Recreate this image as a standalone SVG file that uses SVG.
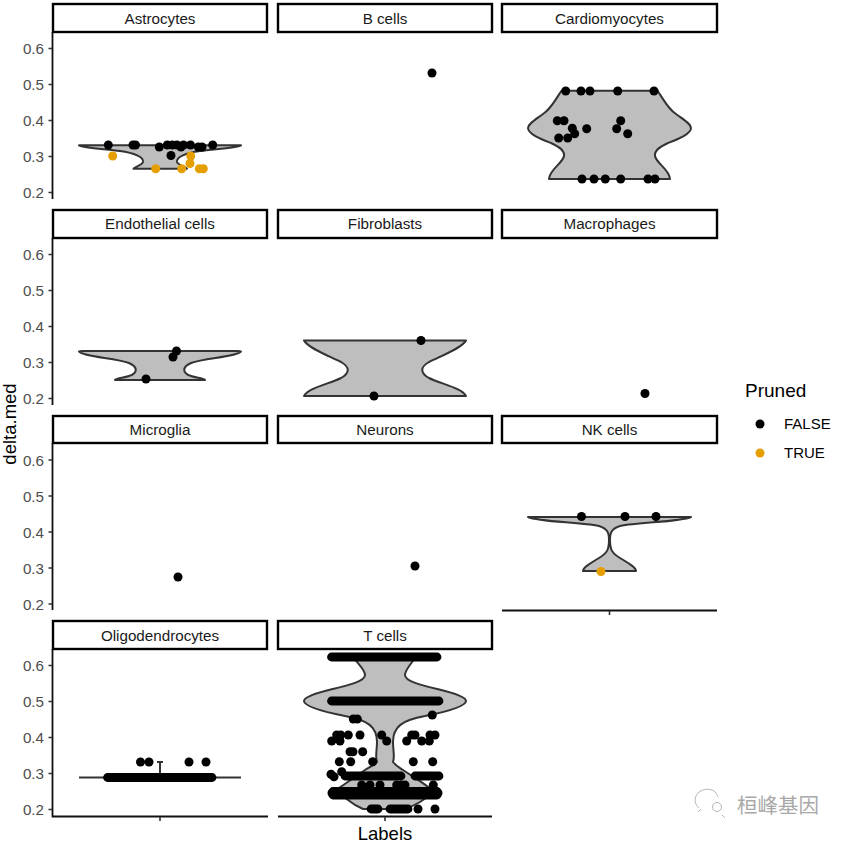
<svg xmlns="http://www.w3.org/2000/svg" width="846" height="843" viewBox="0 0 846 843">
<defs><style>
text{font-family:"Liberation Sans",Arial,sans-serif}
.strip rect{fill:#fff;stroke:#000;stroke-width:2.4}
.strip text{font-size:15.2px;fill:#1a1a1a;text-anchor:middle}
.tick{font-size:15.2px;fill:#4d4d4d;text-anchor:end}
.ax{stroke:#111;stroke-width:1.8;fill:none}
.tk{stroke:#333;stroke-width:1.6;fill:none}
.v{fill:#bebebe;stroke:#333;stroke-width:2;stroke-linejoin:round}
.k{fill:#000}.o{fill:#e69f00}
.bar{stroke:#000;stroke-width:8.8;stroke-linecap:round;fill:none}
.leg{font-size:15px;fill:#000}
.wm{fill:none;stroke:#b5b5b5;stroke-width:1}
circle{r:4.5px}
</style>
<g id="yt"><path class="tk" d="M48.500 0H52M48.500 36H52M48.500 72H52M48.500 108H52M48.500 144H52"/>
<text class="tick" x="44" y="5.500">0.6</text><text class="tick" x="44" y="41.500">0.5</text><text class="tick" x="44" y="77.500">0.4</text><text class="tick" x="44" y="113.500">0.3</text><text class="tick" x="44" y="149.500">0.2</text></g>
</defs>
<rect width="846" height="843" fill="#fff"/>
<g id="axes">
<path class="ax" d="M52.500 32V199M52.500 238V405M52.500 443V610M52.500 649V816.500H268M278 816.500H492M502 610.500H717"/>
<path class="tk" d="M160 817V821M385 817V821M609.500 611V615"/>
<use href="#yt" y="48.500"/><use href="#yt" y="254.500"/><use href="#yt" y="460"/><use href="#yt" y="665.500"/>
</g>
<g id="panel-astrocytes">
<g class="strip"><rect x="53" y="4" width="214" height="28"/><text x="160" y="24">Astrocytes</text></g>
<path class="v" d="M79 145.300H241C236 148 214 149 200 151C186 153 176 157 177 162C178 165 186 167 187 168.700H133.500C135 167 142 165 143 162C144 157 134 153 120 151C106 149 84 148 79 145.300Z"/>
<g class="k"><circle cx="108.300" cy="145" r="4"/><circle cx="133" cy="145" r="4"/><circle cx="135.500" cy="145" r="4"/><circle cx="159.300" cy="147" r="4"/><circle cx="167.300" cy="145" r="4"/><circle cx="172.300" cy="145" r="4"/><circle cx="177" cy="145" r="4"/><circle cx="181" cy="147" r="4"/><circle cx="183.500" cy="145" r="4"/><circle cx="190.500" cy="145" r="4"/><circle cx="198.300" cy="147" r="4"/><circle cx="202" cy="147" r="4"/><circle cx="212.700" cy="145" r="4"/><circle cx="171" cy="155.500" r="4"/></g>
<g class="o"><circle cx="112.700" cy="156" r="4"/><circle cx="190.700" cy="156" r="4"/><circle cx="190" cy="163.500" r="4"/><circle cx="155.700" cy="168.700" r="4"/><circle cx="181.700" cy="168.700" r="4"/><circle cx="199.300" cy="168.700" r="4"/><circle cx="203.300" cy="168.700" r="4"/></g>
</g>
<g id="panel-b-cells">
<g class="strip"><rect x="278" y="4" width="214" height="28"/><text x="385" y="24">B cells</text></g>
<circle class="k" cx="432" cy="73" r="4"/>
</g>
<g id="panel-cardiomyocytes">
<g class="strip"><rect x="502" y="4" width="215" height="28"/><text x="609.500" y="24">Cardiomyocytes</text></g>
<path class="v" d="M561.700 90.700H657.300C663 98 667 108 676 114C684 120 691 124 691 128C691 134 678 139 668 143C659 147 654 151 655 156C656 163 670 170 670 179H549C549 170 563 163 564 156C565 151 560 147 551 143C541 139 528 134 528 128C528 124 535 120 543 114C552 108 556 98 561.700 90.700Z"/>
<g class="k"><circle cx="565.700" cy="91" r="4"/><circle cx="581" cy="91" r="4"/><circle cx="590" cy="91" r="4"/><circle cx="617.700" cy="91" r="4"/><circle cx="654" cy="91" r="4"/><circle cx="557.300" cy="120.700" r="4"/><circle cx="564" cy="120.700" r="4"/><circle cx="572.300" cy="128.300" r="4"/><circle cx="574.700" cy="133.700" r="4"/><circle cx="586.700" cy="128.700" r="4"/><circle cx="558.700" cy="138" r="4"/><circle cx="567.700" cy="138" r="4"/><circle cx="620.700" cy="120.700" r="4"/><circle cx="616.700" cy="128.700" r="4"/><circle cx="627.700" cy="133.700" r="4"/><circle cx="582" cy="179" r="4"/><circle cx="594" cy="179" r="4"/><circle cx="605.300" cy="179" r="4"/><circle cx="620.700" cy="179" r="4"/><circle cx="648" cy="179" r="4"/><circle cx="655" cy="179" r="4"/></g>
</g>
<g id="panel-endothelial">
<g class="strip"><rect x="53" y="210" width="214" height="28"/><text x="160" y="229">Endothelial cells</text></g>
<path class="v" d="M79 351.500C80 350.800 82 351 84 351H236C238 351 240 350.800 241 351.500C236 357 205 358 191 363C182 367 182 373 191 376C197 378 203 378 205 380H115C117 378 123 378 129 376C138 373 138 367 129 363C115 358 84 357 79 351.500Z"/>
<g class="k"><circle cx="176.500" cy="351" r="4"/><circle cx="173" cy="357" r="4"/><circle cx="146" cy="379" r="4"/></g>
</g>
<g id="panel-fibroblasts">
<g class="strip"><rect x="278" y="210" width="214" height="28"/><text x="385" y="229">Fibroblasts</text></g>
<path class="v" d="M304 340.500H466C462 348 441 356 429 362C420 367 420 373 429 378C441 384 462 388 466 396H304C308 388 329 384 341 378C350 373 350 367 341 362C329 356 308 348 304 340.500Z"/>
<g class="k"><circle cx="421" cy="340.500" r="4"/><circle cx="374" cy="396" r="4"/></g>
</g>
<g id="panel-macrophages">
<g class="strip"><rect x="502" y="210" width="215" height="28"/><text x="609.500" y="229">Macrophages</text></g>
<circle class="k" cx="645" cy="393.500" r="4"/>
</g>
<g id="panel-microglia">
<g class="strip"><rect x="53" y="416" width="214" height="27"/><text x="160" y="435">Microglia</text></g>
<circle class="k" cx="178" cy="577" r="4"/>
</g>
<g id="panel-neurons">
<g class="strip"><rect x="278" y="416" width="214" height="27"/><text x="385" y="435">Neurons</text></g>
<circle class="k" cx="415" cy="566" r="4"/>
</g>
<g id="panel-nk">
<g class="strip"><rect x="502" y="416" width="215" height="27"/><text x="609.500" y="435">NK cells</text></g>
<path class="v" d="M528 517H691C680 522 640 522 620 526C611 529 610 533 610 540C610 550 612 553 620 558C628 563 636 567 636 571H583C583 567 591 563 599 558C607 553 609 550 609 540C609 533 608 529 599 526C579 522 539 522 528 517Z"/>
<g class="k"><circle cx="581.500" cy="516.500" r="4"/><circle cx="625" cy="516.500" r="4"/><circle cx="656" cy="516.500" r="4"/></g>
<circle class="o" cx="601" cy="571.500" r="4"/>
</g>
<g id="panel-oligodendrocytes">
<g class="strip"><rect x="53" y="621" width="214" height="28"/><text x="160" y="641">Oligodendrocytes</text></g>
<path class="v" d="M79 777.500H241M160 777V762M157 762H163"/>
<path class="bar" d="M107.500 777.500H212"/>
<g class="k"><circle cx="140.500" cy="762" r="4"/><circle cx="149" cy="762" r="4"/><circle cx="189" cy="762" r="4"/><circle cx="206" cy="762" r="4"/></g>
</g>
<g id="panel-t-cells">
<g class="strip"><rect x="278" y="621" width="214" height="28"/><text x="385" y="641">T cells</text></g>
<path class="v" d="M353 657H416C410 665 405 670 405 675C405 682 425 686 445 691C460 695 466 698 466 701C466 706 450 711 425 716C402 720 393 727 393 742C393 750 395 757 393 762C396 766 400 768 403 770C415 778 425 784 432 790C432 793 428 797 420 802C415 805 410 807 405 809H363C358 807 353 804 348 800C342 796 338 793 336 790C345 784 355 777 365 770C370 767 374 765 377 762C375 757 377 750 377 742C377 727 368 720 345 716C320 711 304 706 304 701C304 698 310 695 325 691C345 686 365 682 365 675C365 670 359 665 353 657Z"/>
<path class="bar" d="M331.500 657H437M331.500 701H439M345 776H401M415 776H439M333 791.500H437M333 795H437M371 809H378M390 809H408"/>
<g class="k"><circle cx="353.300" cy="719" r="4"/><circle cx="357.300" cy="719" r="4"/><circle cx="432.300" cy="715" r="4"/><circle cx="336.700" cy="735" r="4"/><circle cx="340.700" cy="735" r="4"/><circle cx="348.300" cy="735" r="4"/><circle cx="360" cy="735" r="4"/><circle cx="381.700" cy="735" r="4"/><circle cx="411.700" cy="735" r="4"/><circle cx="415" cy="735" r="4"/><circle cx="430" cy="735" r="4"/><circle cx="435" cy="735" r="4"/><circle cx="331.700" cy="741" r="4"/><circle cx="340" cy="741" r="4"/><circle cx="386.700" cy="741" r="4"/><circle cx="406.700" cy="741" r="4"/><circle cx="421.700" cy="741" r="4"/><circle cx="429.300" cy="741" r="4"/><circle cx="350" cy="751.700" r="4"/><circle cx="353" cy="751.700" r="4"/><circle cx="362.700" cy="751.700" r="4"/><circle cx="339.300" cy="761.700" r="4"/><circle cx="350.700" cy="761.700" r="4"/><circle cx="372.700" cy="761.700" r="4"/><circle cx="413.300" cy="761.700" r="4"/><circle cx="432.700" cy="761.700" r="4"/><circle cx="341.700" cy="771.700" r="4"/><circle cx="331" cy="774.300" r="4"/><circle cx="334" cy="776.700" r="4"/><circle cx="361.700" cy="785" r="4"/><circle cx="370" cy="785" r="4"/><circle cx="380" cy="785" r="4"/><circle cx="396.700" cy="785" r="4"/><circle cx="401.700" cy="785" r="4"/><circle cx="405" cy="785" r="4"/><circle cx="433.300" cy="785" r="4"/><circle cx="418" cy="809" r="4"/><circle cx="435" cy="809" r="4"/><circle cx="332" cy="793" r="4"/><circle cx="438" cy="793" r="4"/></g>
</g>
<g id="axis-titles">
<text x="385" y="839.500" font-size="18.500" text-anchor="middle" fill="#000">Labels</text>
<text transform="translate(15.500 424) rotate(-90)" font-size="18.500" text-anchor="middle" fill="#000">delta.med</text>
</g>
<g id="legend">
<text x="745" y="396.500" font-size="19" fill="#000">Pruned</text>
<circle class="k" cx="760" cy="424" r="4"/><text class="leg" x="784" y="429">FALSE</text>
<circle class="o" cx="760" cy="453" r="4"/><text class="leg" x="784" y="458">TRUE</text>
</g>
<g id="watermark">
<path class="wm" d="M699 808C694 804 694 797 698 793C703 788 712 788 716 793C717 795 718 796 718 797M701 809L698 812"/>
<circle class="wm" cx="717" cy="807" r="9.500"/>
<path class="wm" d="M722 815L725 818"/>
<text x="737" y="813" font-size="20.500" fill="#a8a8a8" style="font-family:'Noto Sans CJK SC','Liberation Sans',sans-serif">桓峰基因</text>
</g>
</svg>
